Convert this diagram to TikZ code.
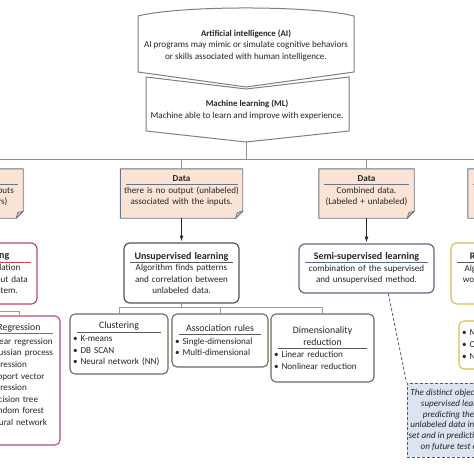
\documentclass[tikz,border=0pt]{standalone}
\usepackage{fontspec}
\setmainfont{Carlito}
\usetikzlibrary{calc, backgrounds}
\definecolor{mInk}{HTML}{262626}
\definecolor{mDark}{HTML}{595959}
\definecolor{mGray}{HTML}{7F7F7F}
\definecolor{mBus}{HTML}{8F8F8F}
\definecolor{mPeach}{HTML}{FBE4D5}
\definecolor{mFlap}{HTML}{D4C0B3}
\definecolor{mSlate}{HTML}{6C7483}
\definecolor{mOlive}{HTML}{6A6C5C}
\definecolor{mOliveDark}{HTML}{55574A}
\definecolor{mOliveLink}{HTML}{9A9C8C}
\definecolor{mBlue}{HTML}{5B6B87}
\definecolor{mRed}{HTML}{B5505F}
\definecolor{mRedLink}{HTML}{C98A96}
\definecolor{mYellow}{HTML}{D6BE5C}
\definecolor{mNote}{HTML}{DCE4F2}
% title line with a rule under it, as wide as the box
\newcommand{\boxhead}[3]{\noindent\rlap{\raisebox{-3.4pt}[0pt][0pt]{\hspace*{#2}\textcolor{#1}{\rule{\dimexpr\hsize-#2-#2\relax}{0.7pt}}}}\makebox[\hsize][c]{#3}}

\begin{document}
\begin{tikzpicture}[x=1pt, y=-1pt,
	every node/.style={text=mInk, font=\fontsize{9.1}{11.6}\selectfont},
	databox/.style={inner xsep=3pt, inner ysep=1pt, minimum height=49, align=center},
	learnbox/.style={draw, fill=white, line width=1.2pt, rounded corners=6pt, inner xsep=3pt, inner ysep=1pt, align=center},
	subbox/.style={draw=mOlive, fill=white, line width=1.1pt, rounded corners=5pt, inner xsep=3pt, inner ysep=1pt, align=left},
	link/.style={draw=mBus, line width=0.9pt},
	flow/.style={draw=mInk, line width=0.8pt, -latex, shorten >=1.5pt}]
	\useasboundingbox (0,0) rectangle (474,474);
	\clip (0,0) rectangle (474,474);
	% banners
	\draw[draw=mGray, line width=1pt, fill=white] (138,16) .. controls (180,5.3) and (312,5.3) .. (354,16) -- (354,72) -- (246,87) -- (138,72) -- cycle;
	\draw[draw=mGray, line width=1pt, fill=white] (146,77) -- (246,89) -- (349,77) -- (349,131) -- (246,142) -- (146,131) -- cycle;
	\node[align=center] (ai) at (246,45.5) {{\bfseries\fontsize{8.8}{11}\selectfont Artificial intelligence (AI)}\\AI programs may mimic or simulate cognitive behaviors\\or skills associated with human intelligence.};
	\node[align=center] (ml) at (247,110) {{\bfseries\fontsize{8.8}{11}\selectfont Machine learning (ML)}\\Machine able to learn and improve with experience.};
	\coordinate (mltip) at (246,142);
	\coordinate (busW) at (0,159);
	\coordinate (busE) at (474,159);
	% data
	\foreach \nm/\x/\w/\tw/\txt in {
		dataS/-38/122/116/{Labeled inputs and outputs\\(input and output pairs)},
		dataU/181.5/122/116/{there is no output (unlabeled)\\associated with the inputs.},
		dataM/366.5/95/89/{Combined data.\\(Labeled + unlabeled)},
		dataR/529/122/116/{Agent interacts with\\the environment.}
	}{
		\node[databox, minimum width=\w, text width=\tw pt] (\nm) at (\x,193.5) {\boxhead{mSlate}{2pt}{\bfseries Data}\\\txt\\[-5pt]\mbox{}};
	}
	\begin{scope}[on background layer]
		\foreach \nm in {dataS, dataU, dataM, dataR}{
			\filldraw[fill=mPeach, draw=mSlate, line width=0.9pt] (\nm.north west) -- (\nm.north east) -- ($(\nm.south east)+(0,-7)$) -- ($(\nm.south east)+(-7,0)$) -- (\nm.south west) -- cycle;
			\filldraw[fill=mFlap, draw=mSlate, line width=0.7pt] ($(\nm.south east)+(0,-7)$) -- ($(\nm.south east)+(-7,0)$) -- ($(\nm.south east)+(-5.5,-5.5)$) -- cycle;
		}
	\end{scope}
	% learning types
	\node[learnbox, draw=mRed, minimum width=138, minimum height=61, text width=132pt] (supL) at (-32,273.5) {\boxhead{mRed}{3pt}{\bfseries\fontsize{10}{12}\selectfont Supervised learning}\\Algorithm finds the relation\\between input and output data\\from a supervised system.};
	\node[learnbox, draw=mOliveDark, minimum width=115, minimum height=60, text width=109pt] (unsup) at (181.5,273) {\boxhead{mDark}{3pt}{\bfseries\fontsize{10}{12}\selectfont Unsupervised learning}\\Algorithm finds patterns\\and correlation between\\unlabeled data.};
	\node[learnbox, draw=mBlue, minimum width=135, minimum height=49, text width=129pt] (semi) at (366.5,268.5) {\boxhead{mBlue}{3pt}{\bfseries\fontsize{10}{12}\selectfont Semi-supervised learning}\\combination of the supervised\\and unsupervised method.};
	\node[learnbox, draw=mYellow, minimum width=136, minimum height=61, text width=130pt] (reinL) at (519,273.5) {\boxhead{mDark}{3pt}{\bfseries\fontsize{10}{12}\selectfont Reinforcement learning}\\Algorithm learns by trial and\\works toward a reward signal\\in an environment.};
	% methods
	\node[subbox, draw=mRed, minimum width=82, minimum height=129, text width=76pt] (regr) at (19,380.5) {\boxhead{mRed}{4pt}{\fontsize{9.8}{12}\selectfont Regression}\\[2pt]\textbullet\ Linear regression\\\textbullet\ Gaussian process\\\phantom{\textbullet\ }regression\\\textbullet\ Support vector\\\phantom{\textbullet\ }regression\\\textbullet\ Decision tree\\\textbullet\ Random forest\\\textbullet\ Neural network\\\mbox{}};
	\node[subbox, minimum width=98, minimum height=60, text width=92pt] (clus) at (119,344) {\boxhead{mDark}{4pt}{\fontsize{9.8}{12}\selectfont Clustering}\\[1pt]\textbullet\ K-means\\\textbullet\ DB SCAN\\\textbullet\ Neural network (NN)};
	\node[subbox, minimum width=96, minimum height=53, text width=90pt] (assoc) at (220,340.5) {\boxhead{mDark}{4pt}{\fontsize{9.8}{12}\selectfont Association rules}\\[1pt]\textbullet\ Single-dimensional\\\textbullet\ Multi-dimensional};
	\node[subbox, minimum width=103, minimum height=68, text width=97pt] (dimr) at (322.5,348) {\noindent\makebox[\hsize][c]{\fontsize{9.8}{12}\selectfont Dimensionality}\\\boxhead{mDark}{4pt}{\fontsize{9.8}{12}\selectfont reduction}\\[1pt]\textbullet\ Linear reduction\\\textbullet\ Nonlinear reduction};
	\node[subbox, draw=mYellow, minimum width=110, minimum height=48, text width=104pt] (reinT) at (514,345) {\textbullet\ Monte Carlo\\\textbullet\ Q-learning\\\textbullet\ Neural network (NN)};
	\node[draw=mDark, dash pattern=on 3pt off 2pt, fill=mNote, line width=0.8pt, inner xsep=1pt, minimum width=116, minimum height=74, align=center, font=\itshape\fontsize{9.1}{10.8}\selectfont] (note) at (465,420) {The distinct objective of semi-\\supervised learning is in\\predicting the labels of\\unlabeled data in the training\\set and in predicting the labels\\on future test examples.};
	% connectors
	\draw[link] (busW) -- (busE);
	\draw[link] (mltip) -- (mltip |- busW);
	\foreach \nm in {dataU, dataM}
	{\draw[link] (\nm.north) -- (\nm.north |- busW);}
	\draw[flow] (dataU.south) -- (unsup.north);
	\draw[flow] (dataM.south) -- (semi.north);
	\coordinate (ubus) at (0,307);
	\draw[draw=mOliveLink, line width=0.9pt] (unsup.south) -- (unsup.south |- ubus);
	\draw[draw=mOliveLink, line width=0.9pt] (clus.north) -- (clus.north |- ubus) -- (dimr.north |- ubus) -- (dimr.north);
	\draw[draw=mOliveLink, line width=0.9pt] (assoc.north) -- (assoc.north |- ubus);
	\coordinate (sbus) at (0,311);
	\draw[draw=mRedLink, line width=0.9pt] (supL.south) -- (supL.south |- sbus) -| (regr.north);
	\draw[draw=mDark, line width=0.8pt, dash pattern=on 3pt off 2pt] ($(semi.south west)!0.66!(semi.south east)$) -- (note.north west);
\end{tikzpicture}
\end{document}
